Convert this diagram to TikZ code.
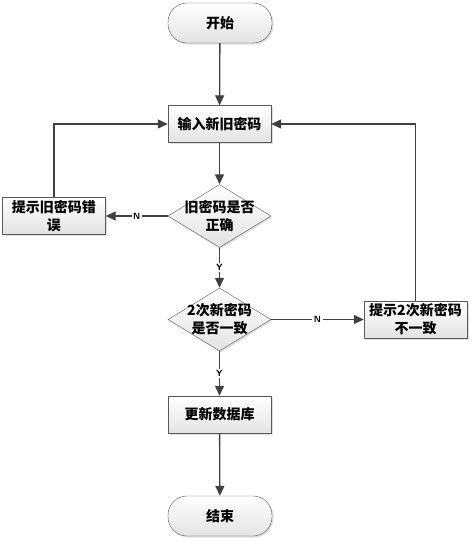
\documentclass[tikz,border=0pt]{standalone}
\usepackage{fontspec}
\newfontfamily\cjk{Noto Sans CJK SC}
\usetikzlibrary{arrows.meta,shapes.geometric,shadows}

\begin{document}
\begin{tikzpicture}[x=1pt, y=-1pt, font=\cjk\bfseries\fontsize{14}{18}\selectfont,
    box/.style={draw=gray!70!black, top color=white, bottom color=gray!22, minimum width=103pt, minimum height=37pt, inner sep=1pt, align=center, drop shadow={shadow xshift=1.5pt, shadow yshift=-1.5pt, opacity=.25}},
    term/.style={box, rounded corners=19pt, minimum width=104pt, minimum height=40pt},
    dec/.style={diamond, draw=gray!70!black, top color=white, bottom color=gray!22, minimum width=103pt, minimum height=63pt, inner sep=0pt, drop shadow={shadow xshift=1.5pt, shadow yshift=-1.5pt, opacity=.25}},
    arr/.style={draw=black!75, line width=1.3pt, -{Triangle[length=10pt,width=9pt]}},
    yn/.style={fill=white, inner sep=1.5pt, font=\sffamily\bfseries\fontsize{9}{10}\selectfont}]
        \useasboundingbox (0,0) rectangle (474,542);
        \node[term] (start) at (220,23) {开始};
        \node[box] (input) at (219.5,124) {输入新旧密码};
        \node[dec] (chk1) at (219.5,216) {};
        \node[align=center, inner sep=0pt] (chk1txt) at (chk1) {旧密码是否\\正确};
        \node[box] (err1) at (54,216) {提示旧密码错\\误};
        \node[dec] (chk2) at (219.5,319.5) {};
        \node[align=center, inner sep=0pt] (chk2txt) at (chk2) {2次新密码\\是否一致};
        \node[box] (err2) at (415.5,319.5) {提示2次新密码\\不一致};
        \node[box] (update) at (219.5,414.5) {更新数据库};
        \node[term] (stop) at (220,516) {结束};
        \draw[arr] (start) -- (input);
        \draw[arr] (input) -- (chk1);
        \draw[arr] (chk1.west) -- node[yn] {N} (err1.east);
        \draw[arr] (err1.north) |- (input.west);
        \draw[arr] (chk1.south) -- node[yn] {Y} (chk2.north);
        \draw[arr] (chk2.east) -- node[yn] {N} (err2.west);
        \draw[arr] (err2.north) |- (input.east);
        \draw[arr] (chk2.south) -- node[yn] {Y} (update.north);
        \draw[arr] (update) -- (stop);
    \end{tikzpicture}
\end{document}
